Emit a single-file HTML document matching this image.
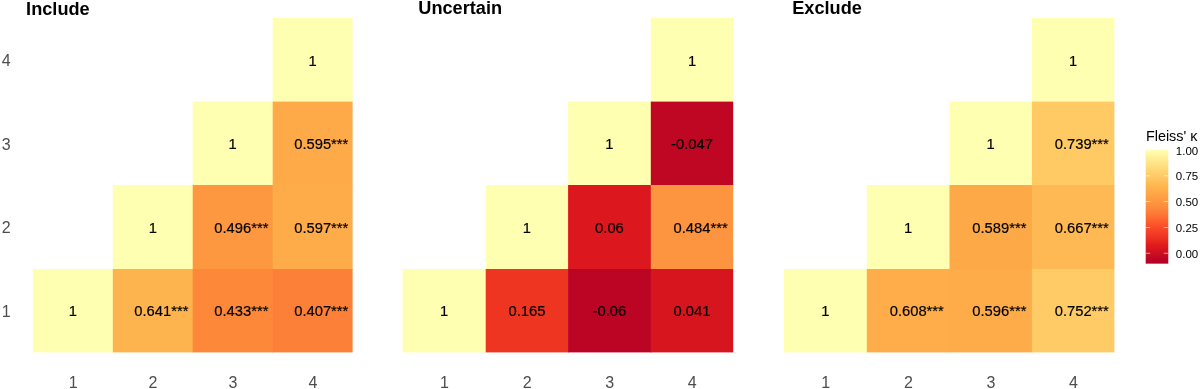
<!DOCTYPE html>
<html lang="en"><head><meta charset="utf-8"><title>Fleiss kappa heatmaps</title>
<style>html,body{margin:0;padding:0;background:#fff}body{width:1200px;height:389px;overflow:hidden}svg{display:block}
text{font-family:"Liberation Sans",Arial,Helvetica,sans-serif}
.t{font-size:18.9px;font-weight:700;fill:#000}.c{font-size:14.75px;fill:#000;stroke:#000;stroke-width:.18px}.ax{font-size:16px;fill:#4d4d4d}.lt{font-size:14.4px;fill:#000}.ll{font-size:11.5px;fill:#000}
</style></head><body>
<svg width="1200" height="389" viewBox="0 0 1200 389">
<rect x="0" y="0" width="1200" height="389" fill="#fff"/>
<g>
<text class="t" transform="translate(26.10,14.60) scale(0.962,1)">Include</text>
<rect x="272.70" y="18.00" width="79.90" height="84.30" fill="#FFFFB2"/>
<rect x="192.70" y="101.60" width="80.70" height="84.10" fill="#FFFFB2"/>
<rect x="272.70" y="101.60" width="79.90" height="84.10" fill="#FEAA49"/>
<rect x="112.80" y="185.00" width="80.60" height="84.70" fill="#FFFFB2"/>
<rect x="192.70" y="185.00" width="80.70" height="84.70" fill="#FD9740"/>
<rect x="272.70" y="185.00" width="79.90" height="84.70" fill="#FEAB49"/>
<rect x="32.85" y="269.00" width="80.65" height="83.40" fill="#FFFFB2"/>
<rect x="112.80" y="269.00" width="80.60" height="83.40" fill="#FEB44E"/>
<rect x="192.70" y="269.00" width="80.70" height="83.40" fill="#FD883A"/>
<rect x="272.70" y="269.00" width="79.90" height="83.40" fill="#FD8038"/>
<text class="c" x="68.72" y="316.00">1</text>
<text class="c" x="134.30" y="316.00">0.641***</text>
<text class="c" x="214.25" y="316.00">0.433***</text>
<text class="c" x="294.20" y="316.00">0.407***</text>
<text class="c" x="148.65" y="233.00">1</text>
<text class="c" x="214.25" y="233.00">0.496***</text>
<text class="c" x="294.20" y="233.00">0.597***</text>
<text class="c" x="228.60" y="149.00">1</text>
<text class="c" x="294.20" y="149.00">0.595***</text>
<text class="c" x="308.55" y="66.00">1</text>
<text class="ax" text-anchor="middle" x="73.12" y="388">1</text>
<text class="ax" text-anchor="middle" x="153.05" y="388">2</text>
<text class="ax" text-anchor="middle" x="233.00" y="388">3</text>
<text class="ax" text-anchor="middle" x="312.95" y="388">4</text>
<text class="ax" text-anchor="end" x="10.7" y="317.10">1</text>
<text class="ax" text-anchor="end" x="10.7" y="233.40">2</text>
<text class="ax" text-anchor="end" x="10.7" y="149.70">3</text>
<text class="ax" text-anchor="end" x="10.7" y="66.20">4</text>
</g>
<g>
<text class="t" transform="translate(418.30,14.30) scale(0.962,1)">Uncertain</text>
<rect x="650.80" y="18.00" width="82.40" height="84.30" fill="#FFFFB2"/>
<rect x="568.10" y="101.60" width="83.40" height="84.10" fill="#FFFFB2"/>
<rect x="650.80" y="101.60" width="82.40" height="84.10" fill="#BF0724"/>
<rect x="485.70" y="185.00" width="83.10" height="84.70" fill="#FFFFB2"/>
<rect x="568.10" y="185.00" width="83.40" height="84.70" fill="#DD171E"/>
<rect x="650.80" y="185.00" width="82.40" height="84.70" fill="#FD943F"/>
<rect x="402.60" y="269.00" width="83.80" height="83.40" fill="#FFFFB2"/>
<rect x="485.70" y="269.00" width="83.10" height="83.40" fill="#EE3522"/>
<rect x="568.10" y="269.00" width="83.40" height="83.40" fill="#BC0524"/>
<rect x="650.80" y="269.00" width="82.40" height="83.40" fill="#D7151F"/>
<text class="c" x="440.05" y="316.00">1</text>
<text class="c" x="508.45" y="316.00">0.165</text>
<text class="c" x="592.64" y="316.00">-0.06</text>
<text class="c" x="673.55" y="316.00">0.041</text>
<text class="c" x="522.80" y="233.00">1</text>
<text class="c" x="595.10" y="233.00">0.06</text>
<text class="c" x="673.55" y="233.00">0.484***</text>
<text class="c" x="605.35" y="149.00">1</text>
<text class="c" x="671.09" y="149.00">-0.047</text>
<text class="c" x="687.90" y="66.00">1</text>
<text class="ax" text-anchor="middle" x="444.45" y="388">1</text>
<text class="ax" text-anchor="middle" x="527.20" y="388">2</text>
<text class="ax" text-anchor="middle" x="609.75" y="388">3</text>
<text class="ax" text-anchor="middle" x="692.30" y="388">4</text>
</g>
<g>
<text class="t" transform="translate(792.20,14.30) scale(0.962,1)">Exclude</text>
<rect x="1031.90" y="18.00" width="82.50" height="84.30" fill="#FFFFB2"/>
<rect x="949.50" y="101.60" width="83.10" height="84.10" fill="#FFFFB2"/>
<rect x="1031.90" y="101.60" width="82.50" height="84.10" fill="#FFC964"/>
<rect x="866.80" y="185.00" width="83.40" height="84.70" fill="#FFFFB2"/>
<rect x="949.50" y="185.00" width="83.10" height="84.70" fill="#FEA948"/>
<rect x="1031.90" y="185.00" width="82.50" height="84.70" fill="#FEB954"/>
<rect x="783.80" y="269.00" width="83.70" height="83.40" fill="#FFFFB2"/>
<rect x="866.80" y="269.00" width="83.40" height="83.40" fill="#FEAD4A"/>
<rect x="949.50" y="269.00" width="83.10" height="83.40" fill="#FEAB49"/>
<rect x="1031.90" y="269.00" width="82.50" height="83.40" fill="#FFCB67"/>
<text class="c" x="821.20" y="316.00">1</text>
<text class="c" x="889.70" y="316.00">0.608***</text>
<text class="c" x="972.25" y="316.00">0.596***</text>
<text class="c" x="1054.70" y="316.00">0.752***</text>
<text class="c" x="904.05" y="233.00">1</text>
<text class="c" x="972.25" y="233.00">0.589***</text>
<text class="c" x="1054.70" y="233.00">0.667***</text>
<text class="c" x="986.60" y="149.00">1</text>
<text class="c" x="1054.70" y="149.00">0.739***</text>
<text class="c" x="1069.05" y="66.00">1</text>
<text class="ax" text-anchor="middle" x="825.60" y="388">1</text>
<text class="ax" text-anchor="middle" x="908.45" y="388">2</text>
<text class="ax" text-anchor="middle" x="991.00" y="388">3</text>
<text class="ax" text-anchor="middle" x="1073.45" y="388">4</text>
</g>
<defs><linearGradient id="kg" x1="0" y1="0" x2="0" y2="1">
<stop offset="0.0000" stop-color="#FFFFB2"/>
<stop offset="0.0227" stop-color="#FFFAAA"/>
<stop offset="0.0455" stop-color="#FFF5A2"/>
<stop offset="0.0682" stop-color="#FFEF99"/>
<stop offset="0.0909" stop-color="#FFEA91"/>
<stop offset="0.1136" stop-color="#FFE589"/>
<stop offset="0.1364" stop-color="#FFE081"/>
<stop offset="0.1591" stop-color="#FEDB79"/>
<stop offset="0.1818" stop-color="#FED572"/>
<stop offset="0.2045" stop-color="#FED06D"/>
<stop offset="0.2273" stop-color="#FFCB67"/>
<stop offset="0.2500" stop-color="#FFC661"/>
<stop offset="0.2727" stop-color="#FFC05B"/>
<stop offset="0.2955" stop-color="#FEBB56"/>
<stop offset="0.3182" stop-color="#FEB650"/>
<stop offset="0.3409" stop-color="#FEB04B"/>
<stop offset="0.3636" stop-color="#FEAB49"/>
<stop offset="0.3864" stop-color="#FEA647"/>
<stop offset="0.4091" stop-color="#FEA145"/>
<stop offset="0.4318" stop-color="#FE9C42"/>
<stop offset="0.4545" stop-color="#FE9740"/>
<stop offset="0.4773" stop-color="#FD923E"/>
<stop offset="0.5000" stop-color="#FD8D3C"/>
<stop offset="0.5227" stop-color="#FD8539"/>
<stop offset="0.5455" stop-color="#FD7E37"/>
<stop offset="0.5682" stop-color="#FD7634"/>
<stop offset="0.5909" stop-color="#FD6D32"/>
<stop offset="0.6136" stop-color="#FD652F"/>
<stop offset="0.6364" stop-color="#FD5C2D"/>
<stop offset="0.6591" stop-color="#FC522B"/>
<stop offset="0.6818" stop-color="#FA4A29"/>
<stop offset="0.7045" stop-color="#F64527"/>
<stop offset="0.7273" stop-color="#F33F25"/>
<stop offset="0.7500" stop-color="#F03823"/>
<stop offset="0.7727" stop-color="#EC3121"/>
<stop offset="0.7955" stop-color="#E92A1F"/>
<stop offset="0.8182" stop-color="#E5211D"/>
<stop offset="0.8409" stop-color="#E1191D"/>
<stop offset="0.8636" stop-color="#DA161E"/>
<stop offset="0.8864" stop-color="#D31220"/>
<stop offset="0.9091" stop-color="#CC0F21"/>
<stop offset="0.9318" stop-color="#C50B23"/>
<stop offset="0.9545" stop-color="#BE0724"/>
<stop offset="0.9773" stop-color="#B80325"/>
<stop offset="1.0000" stop-color="#B10026"/>
</linearGradient></defs>
<text class="lt" x="1145.9" y="140.8">Fleiss' κ</text>
<rect x="1145.70" y="149.80" width="22.60" height="113.85" fill="url(#kg)"/>
<path d="M1145.70 149.80h4.52M1163.78 149.80h4.52" stroke="#fff" stroke-width="1.07" stroke-opacity="0.6" fill="none"/>
<text class="ll" x="1175.8" y="154.80">1.00</text>
<path d="M1145.70 175.68h4.52M1163.78 175.68h4.52" stroke="#fff" stroke-width="1.07" stroke-opacity="0.6" fill="none"/>
<text class="ll" x="1175.8" y="180.18">0.75</text>
<path d="M1145.70 201.55h4.52M1163.78 201.55h4.52" stroke="#fff" stroke-width="1.07" stroke-opacity="0.6" fill="none"/>
<text class="ll" x="1175.8" y="206.05">0.50</text>
<path d="M1145.70 227.42h4.52M1163.78 227.42h4.52" stroke="#fff" stroke-width="1.07" stroke-opacity="0.6" fill="none"/>
<text class="ll" x="1175.8" y="231.92">0.25</text>
<path d="M1145.70 253.30h4.52M1163.78 253.30h4.52" stroke="#fff" stroke-width="1.07" stroke-opacity="0.6" fill="none"/>
<text class="ll" x="1175.8" y="257.80">0.00</text>
</svg></body></html>
